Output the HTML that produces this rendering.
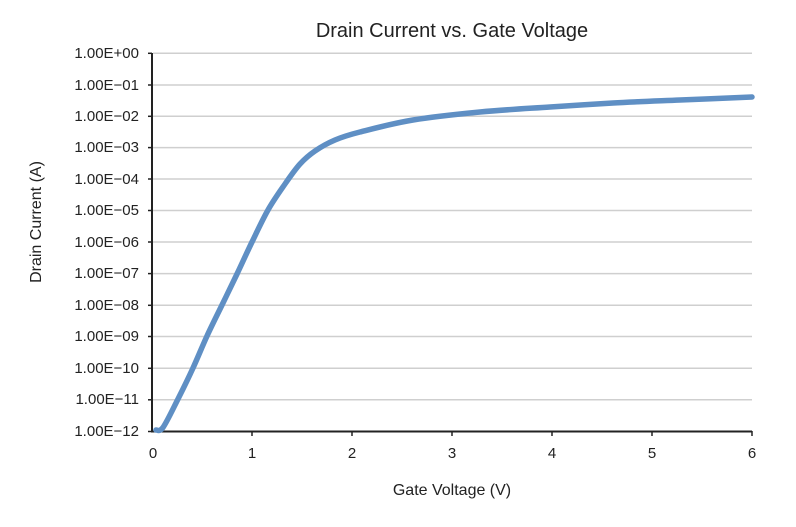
<!DOCTYPE html>
<html><head><style>
html,body{margin:0;padding:0;background:#fff;}
svg{display:block;font-family:"Liberation Sans",sans-serif;}
</style></head><body>
<svg width="796" height="527" viewBox="0 0 796 527">
<rect width="796" height="527" fill="#fff"/>
<text x="452" y="37" font-size="20" text-anchor="middle" fill="#222">Drain Current vs. Gate Voltage</text>
<g stroke="#cfcfcf" stroke-width="1.5">
<line x1="153" x2="752" y1="53.3" y2="53.3"/>
<line x1="153" x2="752" y1="85" y2="85"/>
<line x1="153" x2="752" y1="116.3" y2="116.3"/>
<line x1="153" x2="752" y1="147.6" y2="147.6"/>
<line x1="153" x2="752" y1="179" y2="179"/>
<line x1="153" x2="752" y1="210.5" y2="210.5"/>
<line x1="153" x2="752" y1="242" y2="242"/>
<line x1="153" x2="752" y1="273.6" y2="273.6"/>
<line x1="153" x2="752" y1="305.3" y2="305.3"/>
<line x1="153" x2="752" y1="336.5" y2="336.5"/>
<line x1="153" x2="752" y1="368.3" y2="368.3"/>
<line x1="153" x2="752" y1="399.8" y2="399.8"/>
</g>
<g stroke="#222" stroke-width="2">
<line x1="152" y1="53" x2="152" y2="432"/>
<line x1="151" y1="431.5" x2="752" y2="431.5"/>
</g>
<g stroke="#222" stroke-width="1.5">
<line x1="148" x2="152" y1="53.3" y2="53.3"/><line x1="148" x2="152" y1="85" y2="85"/><line x1="148" x2="152" y1="116.3" y2="116.3"/><line x1="148" x2="152" y1="147.6" y2="147.6"/><line x1="148" x2="152" y1="179" y2="179"/><line x1="148" x2="152" y1="210.5" y2="210.5"/><line x1="148" x2="152" y1="242" y2="242"/><line x1="148" x2="152" y1="273.6" y2="273.6"/><line x1="148" x2="152" y1="305.3" y2="305.3"/><line x1="148" x2="152" y1="336.5" y2="336.5"/><line x1="148" x2="152" y1="368.3" y2="368.3"/><line x1="148" x2="152" y1="399.8" y2="399.8"/><line x1="148" x2="152" y1="431.5" y2="431.5"/>
<line x1="252" x2="252" y1="431" y2="436"/><line x1="352" x2="352" y1="431" y2="436"/><line x1="452" x2="452" y1="431" y2="436"/><line x1="552" x2="552" y1="431" y2="436"/><line x1="652" x2="652" y1="431" y2="436"/><line x1="752" x2="752" y1="431" y2="436"/>
</g>
<g font-size="15" fill="#222" text-anchor="end">
<text x="139" y="58">1.00E+00</text><text x="139" y="90">1.00E−01</text><text x="139" y="121">1.00E−02</text><text x="139" y="152">1.00E−03</text><text x="139" y="184">1.00E−04</text><text x="139" y="215">1.00E−05</text><text x="139" y="247">1.00E−06</text><text x="139" y="278">1.00E−07</text><text x="139" y="310">1.00E−08</text><text x="139" y="341">1.00E−09</text><text x="139" y="373">1.00E−10</text><text x="139" y="404">1.00E−11</text><text x="139" y="436">1.00E−12</text>
</g>
<g font-size="15" fill="#222" text-anchor="middle">
<text x="153" y="458">0</text><text x="252" y="458">1</text><text x="352" y="458">2</text><text x="452" y="458">3</text><text x="552" y="458">4</text><text x="652" y="458">5</text><text x="752" y="458">6</text>
</g>
<text x="452" y="495" font-size="16" text-anchor="middle" fill="#222">Gate Voltage (V)</text>
<text transform="translate(41,222) rotate(-90)" font-size="16" text-anchor="middle" fill="#222">Drain Current (A)</text>
<path id="curve" d="M156,430 L162,428 L178,399 L193,368 L207,336 L222,305 L237,274 L252,242 L268,210 L290,179 L300,162 L310,152 L330,142 L360,133 L413,119 L480,112 L550,107 L613,104 L680,100 L752,97" fill="none" stroke="#5f8fc4" stroke-width="5.5" stroke-linejoin="round" stroke-linecap="round"/>
</svg>
<script>
var p=[[156,430],[163,427.5],[178,399],[193,368],[207,336],[222,305],[237,274],[252,242],[268,210],[285,184],[300,164],[315,151],[335,140],[360,132],[413,120],[480,112],[550,107],[613,103],[680,100],[752,97]];
var d="M"+p[0][0]+","+p[0][1];
for(var i=0;i<p.length-1;i++){var a=p[Math.max(i-1,0)],b=p[i],c=p[i+1],e=p[Math.min(i+2,p.length-1)];
var c1=[b[0]+(c[0]-a[0])/6,b[1]+(c[1]-a[1])/6],c2=[c[0]-(e[0]-b[0])/6,c[1]-(e[1]-b[1])/6];
d+=" C"+c1[0].toFixed(1)+","+c1[1].toFixed(1)+" "+c2[0].toFixed(1)+","+c2[1].toFixed(1)+" "+c[0]+","+c[1];}
document.getElementById("curve").setAttribute("d",d);
</script>
</body></html>
